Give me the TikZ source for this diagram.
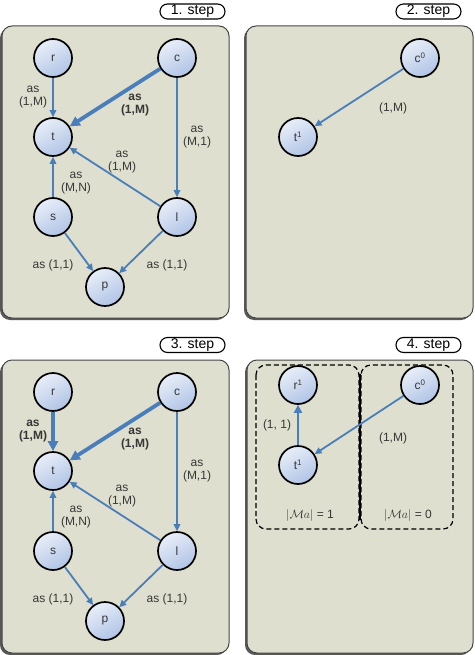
\documentclass[tikz,border=0pt]{standalone}
\usepackage{fontspec}
\setmainfont{Liberation Sans}
\usetikzlibrary{arrows.meta}
\definecolor{panelfill}{RGB}{222,223,206}
\definecolor{panelborder}{RGB}{70,70,70}
\definecolor{nodelight}{RGB}{232,238,248}
\definecolor{nodedark}{RGB}{176,196,230}
\definecolor{edgeblue}{RGB}{74,126,187}
\definecolor{txt}{RGB}{55,55,55}
\tikzset{
 panel/.style={fill=panelfill, draw=panelborder, line width=1pt, rounded corners=10pt},
 panelshadow/.style={fill=black!65, rounded corners=10pt},
 steplabel/.style={draw=black, fill=white, line width=1.1pt, rounded corners=7.5pt, minimum width=65pt, minimum height=15pt, inner sep=0pt, font=\fontsize{14}{14}\selectfont},
 ent/.style={circle, draw=black, line width=1.7pt, minimum size=38pt, inner sep=0pt, top color=nodelight, bottom color=nodedark, shading angle=30, font=\fontsize{12}{12}\selectfont, text=txt},
 rel/.style={draw=edgeblue, line width=1.8pt, -{Triangle[length=7pt,width=6.5pt]}},
 relmid/.style={draw=edgeblue, line width=2.8pt, -{Triangle[length=8pt,width=8pt]}},
 relthick/.style={draw=edgeblue, line width=3.8pt, -{Triangle[length=10pt,width=10pt]}},
 lab/.style={font=\fontsize{12}{13}\selectfont, text=txt, align=center, inner sep=0pt},
 blab/.style={font=\fontsize{12}{13}\selectfont\bfseries, text=txt, align=center, inner sep=0pt},
 grp/.style={draw=black, line width=1.2pt, dash pattern=on 5pt off 3pt, rounded corners=10pt},
}
\newcommand\erpanel[4]{%
 \node[ent] (#1r) at (53,{58+#2}) {r};
 \node[ent] (#1c) at (177,{58+#2}) {c};
 \node[ent] (#1t) at (53,{137+#2}) {t};
 \node[ent] (#1s) at (53,{217+#2}) {s};
 \node[ent] (#1l) at (177,{217+#2}) {l};
 \node[ent] (#1p) at (105,{287+#2}) {p};
 \draw[#3] (#1r) -- (#1t);
 \draw[relthick] (#1c) -- (#1t);
 \draw[rel] (#1c) -- (#1l);
 \draw[rel] (#1l) -- (#1t);
 \draw[rel] (#1s) -- (#1t);
 \draw[rel] (#1s) -- (#1p);
 \draw[rel] (#1l) -- (#1p);
 \node[#4] (#1lrt) at (33,{97+#2}) {as\\(1,M)};
 \node[blab] (#1lct) at (135,{105+#2}) {as\\(1,M)};
 \node[lab] (#1lcl) at (197,{137+#2}) {as\\(M,1)};
 \node[lab] (#1llt) at (122,{162+#2}) {as\\(1,M)};
 \node[lab] (#1lst) at (76,{183+#2}) {as\\(M,N)};
 \node[lab] (#1lsp) at (53,{265+#2}) {as (1,1)};
 \node[lab] (#1llp) at (167,{265+#2}) {as (1,1)};
}
\begin{document}
\begin{tikzpicture}[x=1pt,y=-1pt]
\useasboundingbox (0,0) rectangle (474,655);
% panels
\fill[panelshadow] (0,28) rectangle (227,320);
\draw[panel] (2,26) rectangle (229,318);
\fill[panelshadow] (244,28) rectangle (471,320);
\draw[panel] (246,26) rectangle (473,318);
\fill[panelshadow] (0,362) rectangle (227,655);
\draw[panel] (2,360) rectangle (229,653);
\fill[panelshadow] (245,362) rectangle (471,655);
\draw[panel] (247,360) rectangle (473,653);
% step labels
\node[steplabel] (s1) at (192.5,11.5) {1. step};
\node[steplabel] (s2) at (428.5,11.5) {2. step};
\node[steplabel] (s3) at (192.5,345) {3. step};
\node[steplabel] (s4) at (428.5,345) {4. step};
% panel 1 and 3
\erpanel{a}{0}{rel}{lab}
\erpanel{b}{334}{relthick}{blab}
% panel 2
\node[ent] (c0) at (420,58) {c\textsuperscript{0}};
\node[ent] (t1) at (298,137) {t\textsuperscript{1}};
\draw[rel] (c0) -- (t1);
\node[lab] (l2) at (393,108) {(1,M)};
% panel 4
\draw[grp] (256,365) rectangle (359,529);
\draw[grp] (361,365) rectangle (453,529);
\draw[line width=1.2pt] (360,374) -- (360,520);
\node[ent] (dr) at (298,385) {r\textsuperscript{1}};
\node[ent] (dc) at (420,385) {c\textsuperscript{0}};
\node[ent] (dt) at (298,465) {t\textsuperscript{1}};
\draw[relmid] (dt) -- (dr);
\draw[rel] (dc) -- (dt);
\node[lab] (l41) at (277,425) {(1, 1)};
\node[lab] (l42) at (393,438) {(1,M)};
\node[lab] (l43) at (310,515) {$|\mathcal{M}a|$ = 1};
\node[lab] (l44) at (408,515) {$|\mathcal{M}a|$ = 0};
\end{tikzpicture}
\end{document}
